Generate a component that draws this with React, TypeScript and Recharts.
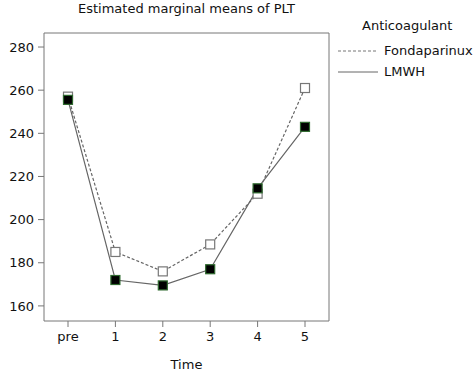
import { LineChart, Line, XAxis, YAxis } from 'recharts'

const times = ['pre', '1', '2', '3', '4', '5']
const fondaparinux = [257, 185, 176, 188.5, 212, 261]
const lmwh = [255.5, 172, 169.5, 177, 214.5, 243]
const yTicks = [160, 180, 200, 220, 240, 260, 280]

const data = times.map((t, i) => ({ time: t, fonda: fondaparinux[i], lmwh: lmwh[i] }))

const FONT = '"DejaVu Sans", Verdana, sans-serif'
const Y_DOMAIN = [153, 286.5]

function SquareDot({ cx, cy, fill, stroke }: any) {
  if (cx == null || cy == null) return null
  return <rect x={cx - 4.5} y={cy - 4.5} width={9} height={9} fill={fill} stroke={stroke} strokeWidth={1.2} />
}

function LegendBox() {
  return (
    <div style={{ position: 'absolute', left: 338, top: 18, fontFamily: FONT, fontSize: 13, color: '#111' }}>
      <div style={{ marginLeft: 24, height: 22 }}>Anticoagulant</div>
      <div style={{ display: 'flex', alignItems: 'center', height: 21 }}>
        <svg width={42} height={4}><line x1={0} y1={2} x2={40} y2={2} stroke="#777" strokeDasharray="3 2" /></svg>
        <span style={{ marginLeft: 4 }}>Fondaparinux</span>
      </div>
      <div style={{ display: 'flex', alignItems: 'center', height: 21 }}>
        <svg width={42} height={4}><line x1={0} y1={2} x2={40} y2={2} stroke="#666" /></svg>
        <span style={{ marginLeft: 4 }}>LMWH</span>
      </div>
    </div>
  )
}

export default function App() {
  return (
    <div style={{ position: 'absolute', left: 0, top: 0, width: 474, height: 375, background: '#fff' }}>
      <div style={{ position: 'absolute', left: 44, width: 285, top: 1, textAlign: 'center', fontFamily: FONT, fontSize: 13, color: '#111' }}>
        Estimated marginal means of PLT
      </div>
      <LineChart width={474} height={375} data={data} margin={{ top: 32, right: 144, bottom: 0, left: 0 }}>
        <XAxis
          dataKey="time"
          padding={{ left: 24, right: 24 }}
          height={54}
          stroke="#777"
          tickSize={6}
          tickMargin={5}
          tick={{ fill: '#111', fontSize: 13, fontFamily: FONT }}
          label={{ value: 'Time', position: 'insideBottom', offset: 6, fill: '#111', fontSize: 13, fontFamily: FONT }}
        />
        <XAxis xAxisId="top" dataKey="time" orientation="top" height={1} stroke="#777" tick={false} tickLine={false} />
        <YAxis
          domain={Y_DOMAIN}
          ticks={yTicks}
          allowDataOverflow
          width={44}
          stroke="#777"
          tickSize={6}
          tickMargin={4}
          tick={{ fill: '#111', fontSize: 13, fontFamily: FONT }}
        />
        <YAxis yAxisId="right" orientation="right" domain={Y_DOMAIN} width={1} stroke="#777" tick={false} tickLine={false} />
        <Line
          dataKey="fonda"
          stroke="#666"
          strokeDasharray="3 2"
          strokeWidth={1.2}
          dot={<SquareDot fill="#fff" stroke="#777" />}
          isAnimationActive={false}
        />
        <Line
          dataKey="lmwh"
          stroke="#666"
          strokeWidth={1.2}
          dot={<SquareDot fill="#000" stroke="#2f6a2f" />}
          isAnimationActive={false}
        />
      </LineChart>
      <LegendBox />
    </div>
  )
}
